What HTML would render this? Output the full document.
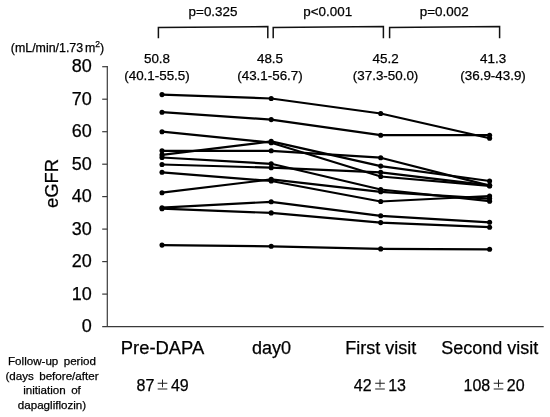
<!DOCTYPE html>
<html><head><meta charset="utf-8"><title>eGFR</title>
<style>
html,body{margin:0;padding:0;background:#fff;}
body{width:550px;height:417px;overflow:hidden;}
svg{display:block;}
text{font-family:"Liberation Sans",sans-serif;fill:#000;stroke:#000;stroke-width:0.25px;}
</style></head><body>
<svg width="550" height="417" viewBox="0 0 550 417">
<rect width="550" height="417" fill="#fff"/>

<g stroke="#3a3a3a" stroke-width="1.2" fill="none">
<line x1="107.3" y1="66.1" x2="107.3" y2="326.6"/>
<line x1="102.2" y1="326.6" x2="543.7" y2="326.6"/>
<line x1="102.2" y1="294.1" x2="107.3" y2="294.1"/>
<line x1="102.2" y1="261.6" x2="107.3" y2="261.6"/>
<line x1="102.2" y1="229.1" x2="107.3" y2="229.1"/>
<line x1="102.2" y1="196.6" x2="107.3" y2="196.6"/>
<line x1="102.2" y1="164.2" x2="107.3" y2="164.2"/>
<line x1="102.2" y1="131.7" x2="107.3" y2="131.7"/>
<line x1="102.2" y1="99.2" x2="107.3" y2="99.2"/>
<line x1="102.2" y1="66.7" x2="107.3" y2="66.7"/>
</g>
<g font-size="18" text-anchor="end">
<text x="91.8" y="332.0">0</text>
<text x="91.8" y="299.5">10</text>
<text x="91.8" y="267.0">20</text>
<text x="91.8" y="234.5">30</text>
<text x="91.8" y="202.0">40</text>
<text x="91.8" y="169.6">50</text>
<text x="91.8" y="137.1">60</text>
<text x="91.8" y="104.6">70</text>
<text x="91.8" y="72.1">80</text>
</g>
<g stroke="#111" stroke-width="1.5" fill="none">
<polyline points="158.4,38.3 158.4,27.5 267.8,26.6 267.8,38.3"/>
<polyline points="273.2,38.3 273.2,27.5 383.4,26.6 383.4,38.3"/>
<polyline points="389.6,38.3 389.6,27.5 499.6,26.6 499.6,38.3"/>
</g>
<g font-size="13.4" text-anchor="middle">
<text x="213" y="15.8">p=0.325</text>
<text x="327.7" y="15.8">p&lt;0.001</text>
<text x="444.2" y="15.8">p=0.002</text>
</g>
<g font-size="13.4" text-anchor="middle">
<text x="157" y="63.3">50.8</text><text x="157" y="80.2">(40.1-55.5)</text>
<text x="270" y="63.3">48.5</text><text x="270" y="80.2">(43.1-56.7)</text>
<text x="385.6" y="63.3">45.2</text><text x="385.6" y="80.2">(37.3-50.0)</text>
<text x="493.1" y="63.3">41.3</text><text x="493.1" y="80.2">(36.9-43.9)</text>
</g>
<text y="51.5" font-size="12.4"><tspan x="10.8">(mL/min/1.73</tspan><tspan x="85">m</tspan><tspan font-size="8.6" dy="-4.6">2</tspan><tspan dy="4.6">)</tspan></text>
<text transform="translate(58.3,183.5) rotate(-90)" font-size="18.4" text-anchor="middle">eGFR</text>
<g stroke="#000" stroke-width="2.2" fill="none" stroke-linejoin="round">
<polyline points="162.0,94.6 271.2,98.5 380.7,113.5 489.6,138.2"/>
<polyline points="162.0,112.2 271.2,119.6 380.7,135.2 489.6,135.2"/>
<polyline points="162.0,131.7 271.2,142.7 380.7,176.5 489.6,185.9"/>
<polyline points="162.0,150.8 271.2,150.8 380.7,157.7 489.6,185.6"/>
<polyline points="162.0,157.5 271.2,163.8 380.7,189.5 489.6,201.2"/>
<polyline points="162.0,154.9 271.2,141.4 380.7,166.1 489.6,181.0"/>
<polyline points="162.0,164.5 271.2,167.7 380.7,172.3 489.6,185.3"/>
<polyline points="162.0,172.3 271.2,181.0 380.7,201.5 489.6,196.0"/>
<polyline points="162.0,192.7 271.2,179.4 380.7,191.8 489.6,198.6"/>
<polyline points="162.0,207.7 271.2,201.8 380.7,215.8 489.6,222.3"/>
<polyline points="162.0,208.7 271.2,212.9 380.7,222.6 489.6,227.2"/>
<polyline points="162.0,245.1 271.2,246.3 380.7,248.9 489.6,249.3"/>
</g>
<g fill="#000">
<circle cx="162.0" cy="94.6" r="2.55"/>
<circle cx="271.2" cy="98.5" r="2.55"/>
<circle cx="380.7" cy="113.5" r="2.55"/>
<circle cx="489.6" cy="138.2" r="2.55"/>
<circle cx="162.0" cy="112.2" r="2.55"/>
<circle cx="271.2" cy="119.6" r="2.55"/>
<circle cx="380.7" cy="135.2" r="2.55"/>
<circle cx="489.6" cy="135.2" r="2.55"/>
<circle cx="162.0" cy="131.7" r="2.55"/>
<circle cx="271.2" cy="142.7" r="2.55"/>
<circle cx="380.7" cy="176.5" r="2.55"/>
<circle cx="489.6" cy="185.9" r="2.55"/>
<circle cx="162.0" cy="150.8" r="2.55"/>
<circle cx="271.2" cy="150.8" r="2.55"/>
<circle cx="380.7" cy="157.7" r="2.55"/>
<circle cx="489.6" cy="185.6" r="2.55"/>
<circle cx="162.0" cy="157.5" r="2.55"/>
<circle cx="271.2" cy="163.8" r="2.55"/>
<circle cx="380.7" cy="189.5" r="2.55"/>
<circle cx="489.6" cy="201.2" r="2.55"/>
<circle cx="162.0" cy="154.9" r="2.55"/>
<circle cx="271.2" cy="141.4" r="2.55"/>
<circle cx="380.7" cy="166.1" r="2.55"/>
<circle cx="489.6" cy="181.0" r="2.55"/>
<circle cx="162.0" cy="164.5" r="2.55"/>
<circle cx="271.2" cy="167.7" r="2.55"/>
<circle cx="380.7" cy="172.3" r="2.55"/>
<circle cx="489.6" cy="185.3" r="2.55"/>
<circle cx="162.0" cy="172.3" r="2.55"/>
<circle cx="271.2" cy="181.0" r="2.55"/>
<circle cx="380.7" cy="201.5" r="2.55"/>
<circle cx="489.6" cy="196.0" r="2.55"/>
<circle cx="162.0" cy="192.7" r="2.55"/>
<circle cx="271.2" cy="179.4" r="2.55"/>
<circle cx="380.7" cy="191.8" r="2.55"/>
<circle cx="489.6" cy="198.6" r="2.55"/>
<circle cx="162.0" cy="207.7" r="2.55"/>
<circle cx="271.2" cy="201.8" r="2.55"/>
<circle cx="380.7" cy="215.8" r="2.55"/>
<circle cx="489.6" cy="222.3" r="2.55"/>
<circle cx="162.0" cy="208.7" r="2.55"/>
<circle cx="271.2" cy="212.9" r="2.55"/>
<circle cx="380.7" cy="222.6" r="2.55"/>
<circle cx="489.6" cy="227.2" r="2.55"/>
<circle cx="162.0" cy="245.1" r="2.55"/>
<circle cx="271.2" cy="246.3" r="2.55"/>
<circle cx="380.7" cy="248.9" r="2.55"/>
<circle cx="489.6" cy="249.3" r="2.55"/>
</g>
<g font-size="18">
<text x="120.8" y="353.6" font-size="18.4">Pre-DAPA</text>
<text x="252" y="353.6">day0</text>
<text x="345.3" y="353.5">First visit</text>
<text x="441.3" y="354.0">Second visit</text>
</g>
<g font-size="11.6" text-anchor="middle" word-spacing="2.2">
<text x="52" y="365.3">Follow-up period</text>
<text x="52" y="379.9">(days before/after</text>
<text x="52" y="394.4">initiation of</text>
<text x="52" y="409.0">dapagliflozin)</text>
</g>
<text x="136.5" y="390.5" font-size="16">87</text><text x="162.60000000000002" y="390.2" font-size="14" text-anchor="middle" style="font-family:IPAGothic,'Noto Sans CJK JP',sans-serif;fill:#222;stroke:none">±</text><text x="170.9" y="390.5" font-size="16">49</text>
<text x="353.8" y="390.5" font-size="16">42</text><text x="379.90000000000003" y="390.2" font-size="14" text-anchor="middle" style="font-family:IPAGothic,'Noto Sans CJK JP',sans-serif;fill:#222;stroke:none">±</text><text x="388.20000000000005" y="390.5" font-size="16">13</text>
<text x="463.5" y="390.5" font-size="16">108</text><text x="498.5" y="390.2" font-size="14" text-anchor="middle" style="font-family:IPAGothic,'Noto Sans CJK JP',sans-serif;fill:#222;stroke:none">±</text><text x="506.8" y="390.5" font-size="16">20</text>
</svg></body></html>
